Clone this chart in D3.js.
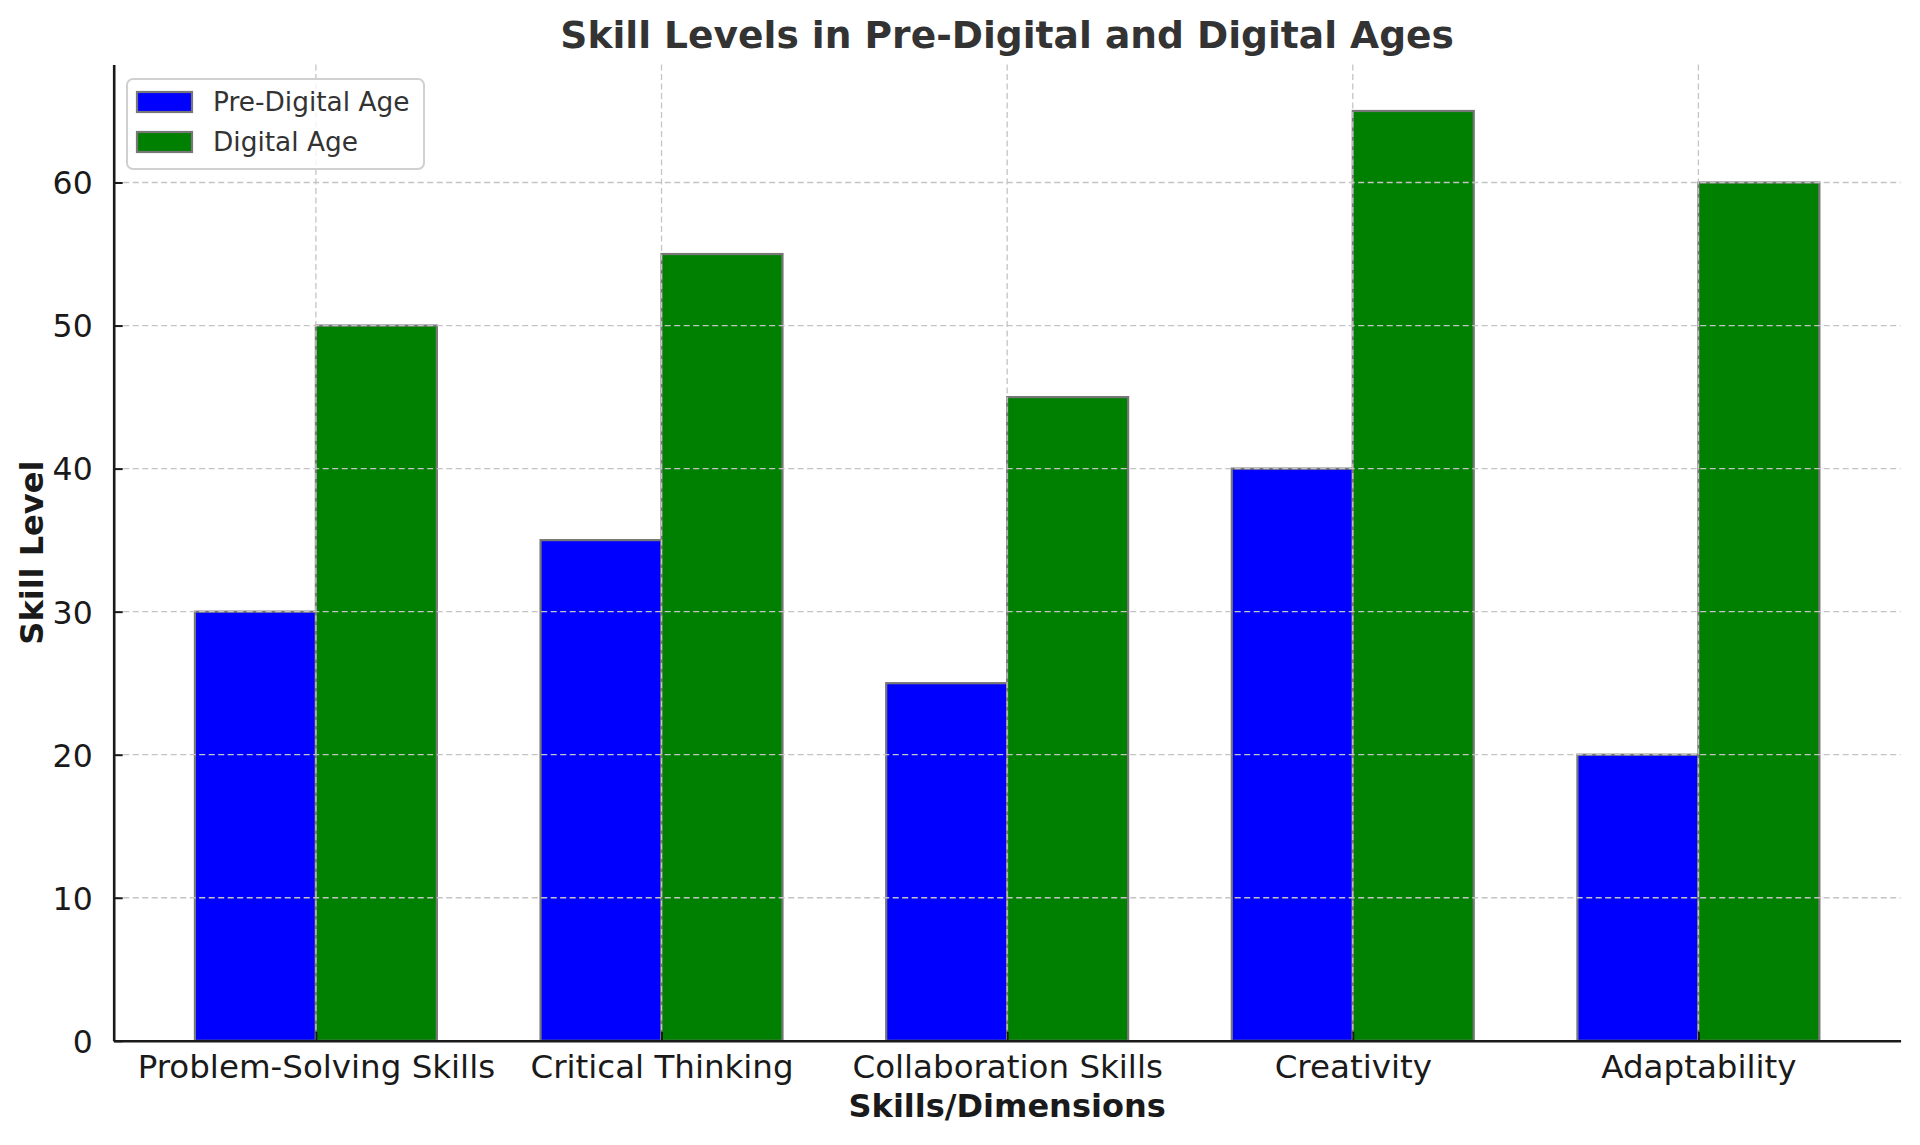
<!DOCTYPE html>
<html>
<head>
<meta charset="utf-8">
<script src="https://cdn.jsdelivr.net/npm/d3@7"></script>
<style>
  body { margin: 0; background: #fff; }
  svg { display: block; font-family: "DejaVu Sans", sans-serif; }
</style>
</head>
<body>
<div id="chart"></div>
<script>
var categories = ["Problem-Solving Skills", "Critical Thinking", "Collaboration Skills", "Creativity", "Adaptability"];
var preDigital = [30, 35, 25, 40, 20];
var digital = [50, 55, 45, 65, 60];
var seriesNames = ["Pre-Digital Age", "Digital Age"];
var seriesColors = ["#0000ff", "#008000"];
var yTicks = [0, 10, 20, 30, 40, 50, 60];

var width = 1920, height = 1145;
var plotLeft = 113.7, plotRight = 1900.6, plotTop = 64.5, plotBottom = 1040.8;
var barW = 0.35;

var svg = d3.select("#chart")
  .append("svg")
  .attr("width", width)
  .attr("height", height);

// x is a linear index scale so the bar groups sit like matplotlib's
var x = d3.scaleLinear()
  .domain([-barW - 0.235, categories.length - 1 + barW + 0.235])
  .range([plotLeft, plotRight]);

var y = d3.scaleLinear()
  .domain([0, d3.max(digital) * 1.05])
  .range([plotBottom, plotTop]);

// bars
var series = [preDigital, digital];
series.forEach(function (vals, s) {
  svg.append("g")
    .selectAll("rect")
    .data(vals)
    .enter()
    .append("rect")
      .attr("x", function (d, i) { return x(i + (s - 1) * barW); })
      .attr("width", x(barW) - x(0))
      .attr("y", function (d) { return y(d); })
      .attr("height", function (d) { return y(0) - y(d); })
      .attr("fill", seriesColors[s])
      .attr("stroke", "#777777")
      .attr("stroke-width", 2.2);
});

// grid on top of the bars
var grid = svg.append("g")
  .attr("stroke", "#c4c4c4")
  .attr("stroke-width", 1.3)
  .attr("stroke-dasharray", "6,3.5");

grid.selectAll(".hg")
  .data(yTicks.slice(1))
  .enter().append("line")
    .attr("x1", plotLeft).attr("x2", plotRight)
    .attr("y1", function (d) { return y(d); })
    .attr("y2", function (d) { return y(d); });

grid.selectAll(".vg")
  .data(d3.range(categories.length))
  .enter().append("line")
    .attr("x1", function (d) { return x(d); })
    .attr("x2", function (d) { return x(d); })
    .attr("y1", plotTop).attr("y2", plotBottom);

// axes
var xAxis = d3.axisBottom(x)
  .tickValues(d3.range(categories.length))
  .tickFormat(function (d) { return categories[d]; })
  .tickSizeInner(-9)
  .tickSizeOuter(0)
  .tickPadding(14);

var yAxis = d3.axisLeft(y)
  .tickValues(yTicks)
  .tickFormat(d3.format("d"))
  .tickSizeInner(-9)
  .tickSizeOuter(0)
  .tickPadding(21);

var gx = svg.append("g")
  .attr("transform", "translate(0," + plotBottom + ")")
  .call(xAxis);

var gy = svg.append("g")
  .attr("transform", "translate(" + plotLeft + ",0)")
  .call(yAxis);

[gx, gy].forEach(function (g) {
  g.select(".domain").attr("stroke", "#1a1a1a").attr("stroke-width", 2.6);
  g.selectAll(".tick line").attr("stroke", "#1a1a1a").attr("stroke-width", 2);
  g.selectAll(".tick text")
    .attr("fill", "#1a1a1a")
    .style("font-family", "'DejaVu Sans', sans-serif")
    .style("font-size", "31.5px");
});
gx.selectAll(".tick text").attr("dy", "0.72em").style("font-size", "32.5px");
gy.selectAll(".tick text").attr("dy", "0.36em");

// title and axis labels
svg.append("text")
  .attr("x", (plotLeft + plotRight) / 2)
  .attr("y", 48)
  .attr("text-anchor", "middle")
  .style("font-size", "37.6px")
  .style("font-weight", "bold")
  .attr("fill", "#333333")
  .text("Skill Levels in Pre-Digital and Digital Ages");

svg.append("text")
  .attr("x", (plotLeft + plotRight) / 2)
  .attr("y", 1117)
  .attr("text-anchor", "middle")
  .style("font-size", "32px")
  .style("font-weight", "bold")
  .attr("fill", "#1a1a1a")
  .text("Skills/Dimensions");

svg.append("text")
  .attr("transform", "translate(43," + (plotTop + plotBottom) / 2 + ") rotate(-90)")
  .attr("text-anchor", "middle")
  .style("font-size", "32px")
  .style("font-weight", "bold")
  .attr("fill", "#1a1a1a")
  .text("Skill Level");

// legend
var legend = svg.append("g").attr("transform", "translate(127,79)");
legend.append("rect")
  .attr("width", 297)
  .attr("height", 90)
  .attr("rx", 6)
  .attr("fill", "#fff")
  .attr("fill-opacity", 0.8)
  .attr("stroke", "#d0d0d0")
  .attr("stroke-width", 2);

var items = legend.selectAll(".item")
  .data(seriesNames)
  .enter().append("g")
    .attr("transform", function (d, i) { return "translate(10," + (13 + i * 40) + ")"; });

items.append("rect")
  .attr("width", 55)
  .attr("height", 20)
  .attr("fill", function (d, i) { return seriesColors[i]; })
  .attr("stroke", "#777777")
  .attr("stroke-width", 2.2);

items.append("text")
  .attr("x", 76)
  .attr("y", 9)
  .attr("dy", "0.36em")
  .style("font-size", "26.4px")
  .attr("fill", "#333333")
  .text(function (d) { return d; });
</script>
</body>
</html>
